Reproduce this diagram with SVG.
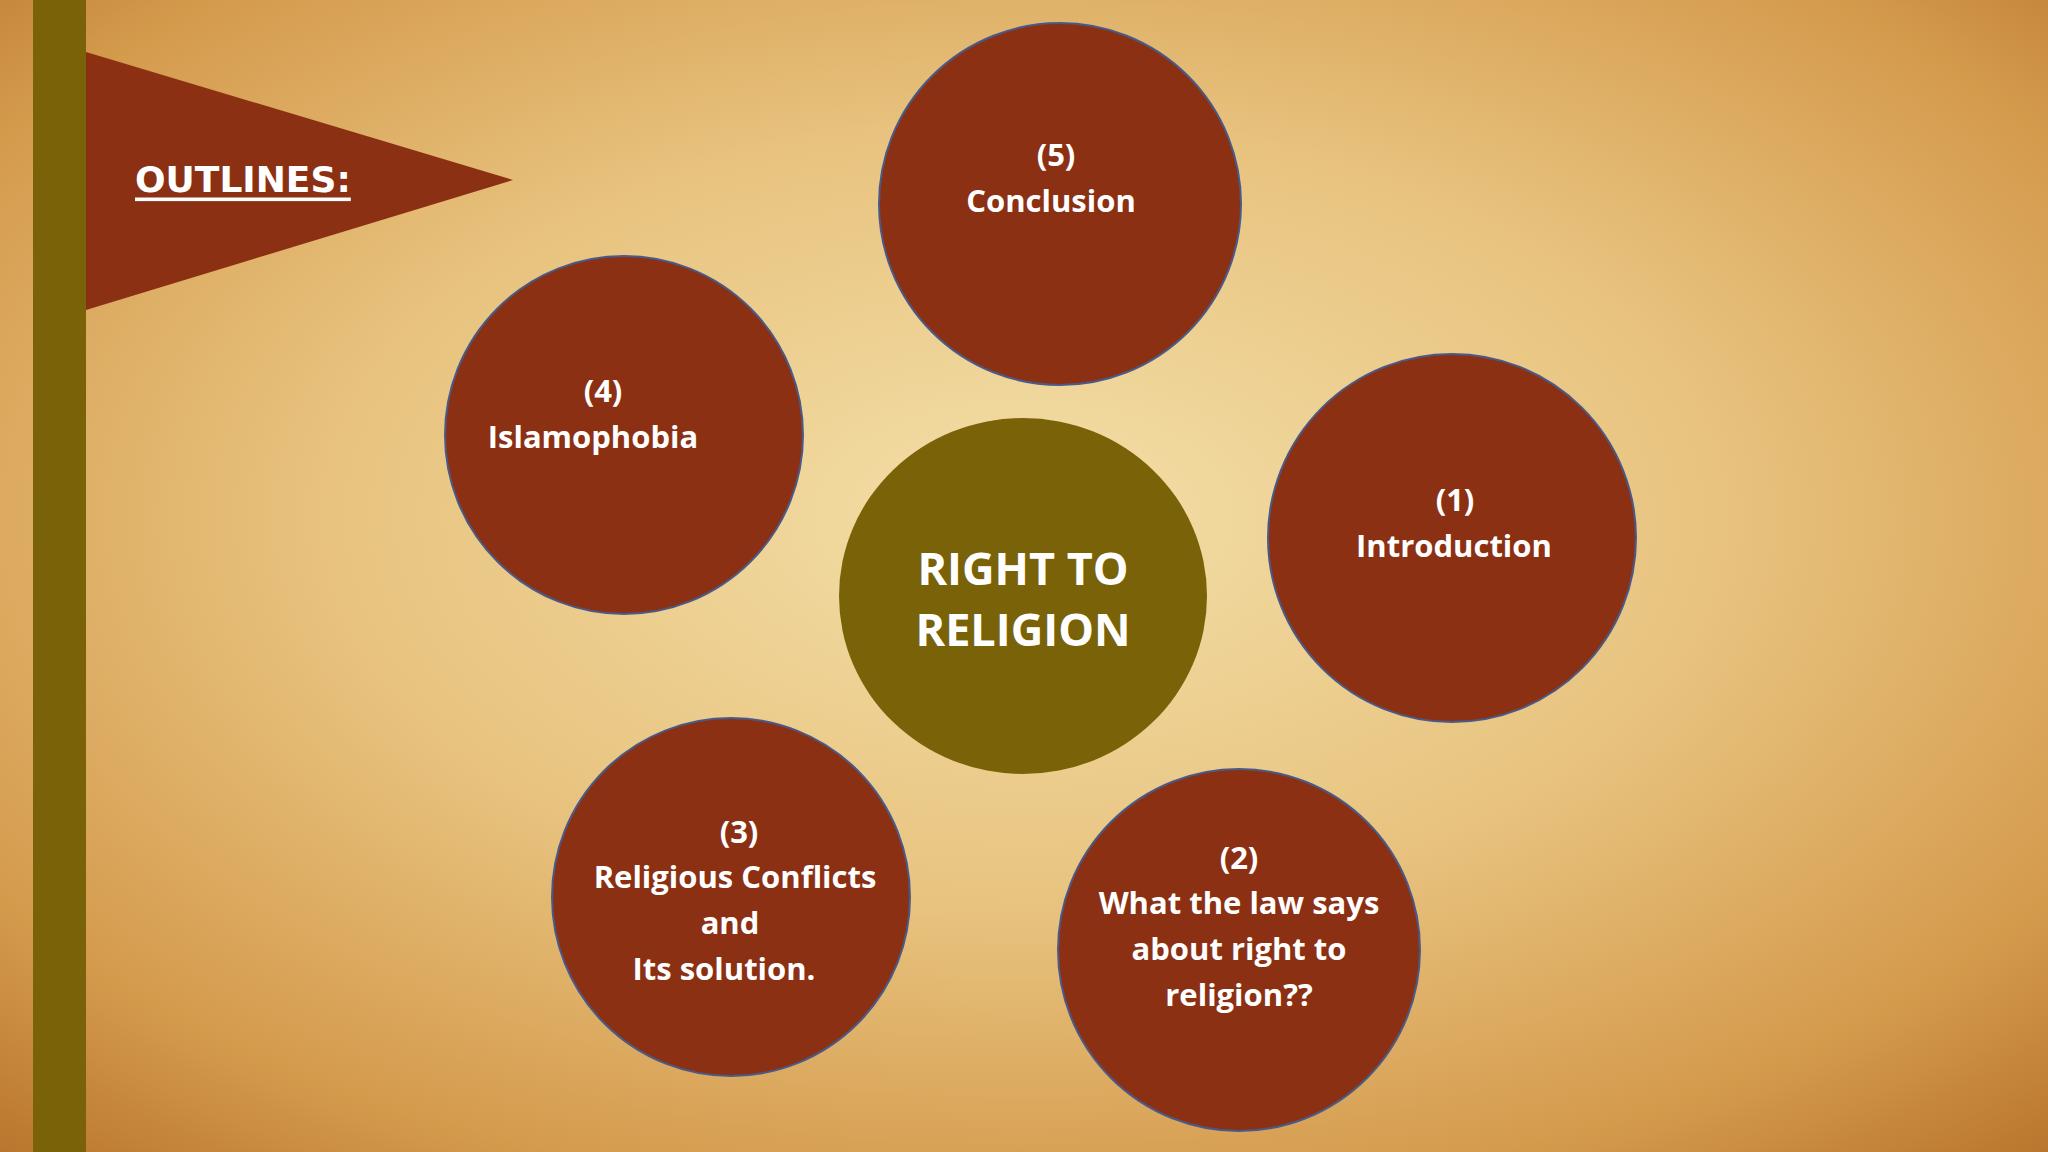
<svg xmlns="http://www.w3.org/2000/svg" width="2048" height="1152" viewBox="0 0 2048 1152">
<defs>
<radialGradient id="bg" cx="0.5" cy="0.45" r="0.75">
<stop offset="0" stop-color="#f3dfa8"/>
<stop offset="0.45" stop-color="#e8c37f"/>
<stop offset="0.8" stop-color="#d49a4c"/>
<stop offset="1" stop-color="#b8742c"/>
</radialGradient>
</defs>
<style>
.n{fill:#8c3014;stroke:#4a5a88;stroke-width:2}
.t{font-family:"Open Sans","Liberation Sans",sans-serif;font-weight:bold;font-size:31px;fill:#fff;text-anchor:middle;dominant-baseline:central}
.big{font-size:45px}
</style>
<rect width="2048" height="1152" fill="url(#bg)"/>
<rect x="33" y="0" width="53" height="1152" fill="#7a6208"/>
<g id="flag">
<polygon points="86,52 513,180 86,310" fill="#8c3014"/>
<text x="135" y="179" font-family="'DejaVu Sans','Liberation Sans',sans-serif" font-weight="900" font-size="36" fill="#fff" text-decoration="underline" dominant-baseline="central">OUTLINES:</text>
</g>
<g id="connectors"></g>
<g id="center">
<ellipse cx="1023" cy="596" rx="184" ry="178" fill="#7a6208"/>
<text class="t big" x="1023" y="567">RIGHT TO</text>
<text class="t big" x="1023" y="628">RELIGION</text>
</g>
<g id="n5"><circle class="n" cx="1060" cy="204" r="181"/>
<text class="t" x="1056" y="154">(5)</text><text class="t" x="1051" y="200">Conclusion</text></g>
<g id="n4"><circle class="n" cx="624" cy="435" r="179"/>
<text class="t" x="603" y="390">(4)</text><text class="t" x="593" y="436">Islamophobia</text></g>
<g id="n1"><circle class="n" cx="1452" cy="538" r="184"/>
<text class="t" x="1455" y="499">(1)</text><text class="t" x="1454" y="545">Introduction</text></g>
<g id="n3"><circle class="n" cx="731" cy="897" r="179"/>
<text class="t" x="739" y="831">(3)</text><text class="t" x="735" y="876">Religious Conflicts</text><text class="t" x="730" y="922">and</text><text class="t" x="724" y="968">Its solution.</text></g>
<g id="n2"><circle class="n" cx="1239" cy="950" r="181"/>
<text class="t" x="1239" y="857">(2)</text><text class="t" x="1239" y="902">What the law says</text><text class="t" x="1239" y="948">about right to</text><text class="t" x="1239" y="994">religion??</text></g>
</svg>
